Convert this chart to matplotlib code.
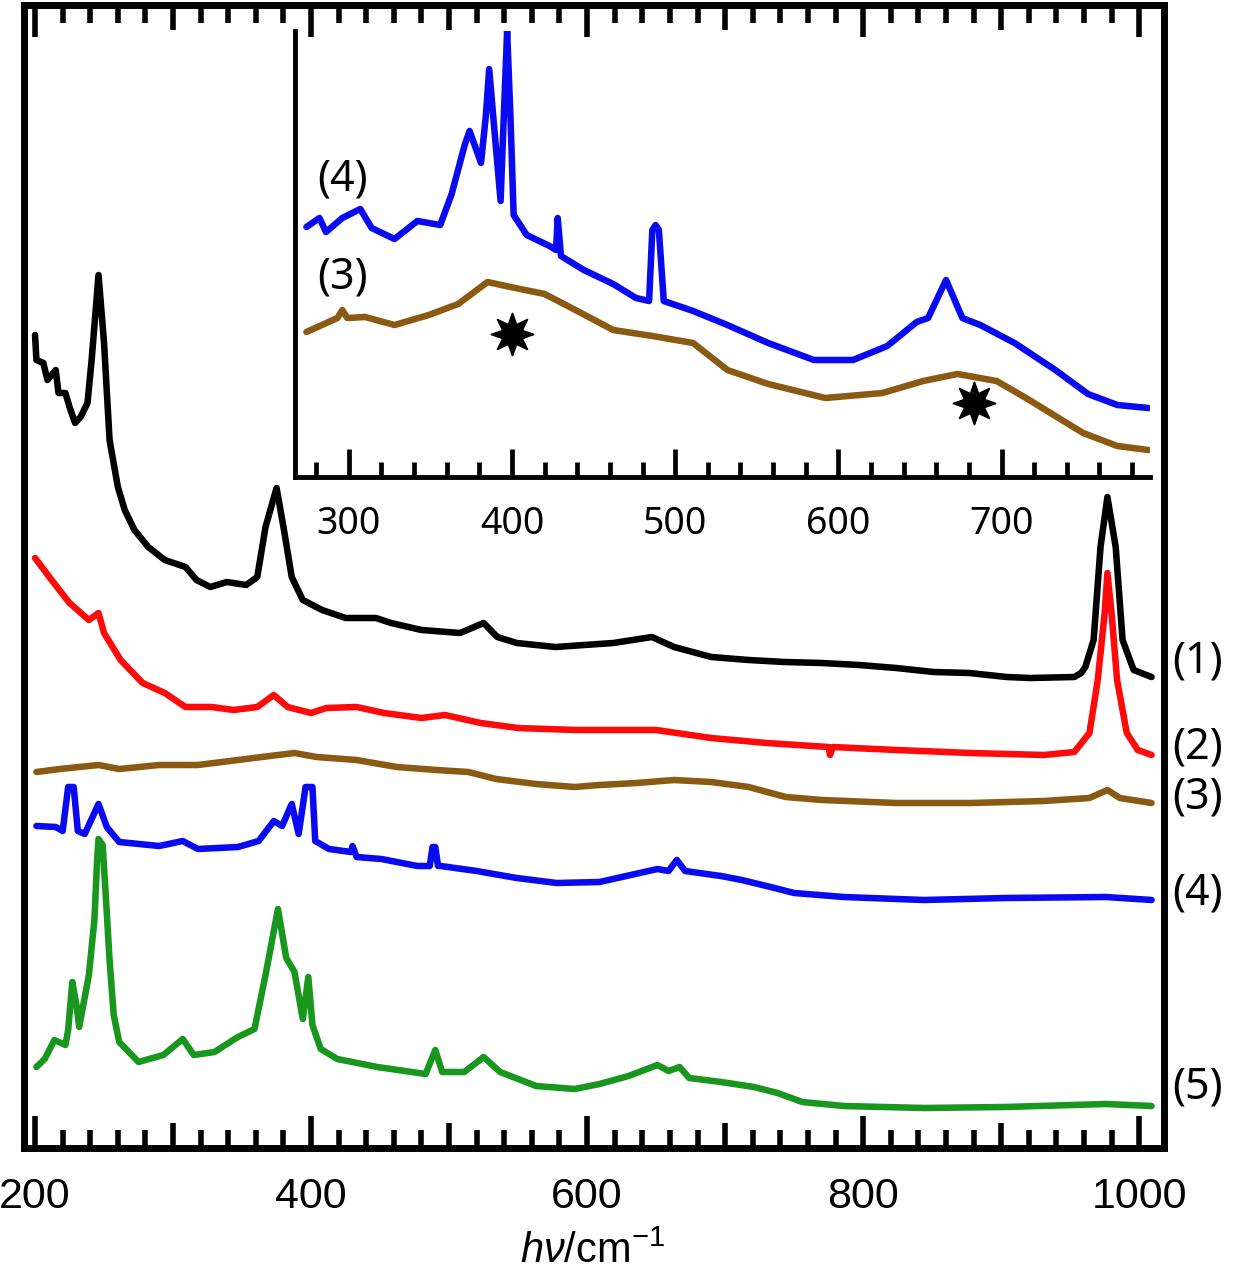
#%% Raman spectra (1)-(5) with inset of (3) and (4)
import numpy as np
import matplotlib
matplotlib.use("Agg")
import matplotlib.pyplot as plt
from matplotlib import font_manager
from matplotlib.ticker import MultipleLocator, FuncFormatter
from matplotlib.transforms import blended_transform_factory

# %% Data (wavenumber in cm-1, intensity in arbitrary units incl. offset)
wn_1 = [200, 201, 206, 209, 215, 217, 222, 225, 229, 233, 238, 241, 246, 250, 254, 260, 265, 272,
        282, 294, 309, 317, 327, 339, 353, 361, 367, 375, 380, 386, 394, 408, 425, 447, 458, 480,
        508, 525, 535, 549, 577, 619, 647, 663, 690, 717, 743, 770, 797, 824, 851, 877, 904, 921,
        953, 958, 961, 967, 972, 977, 983, 988, 996, 1009]
int_1 = [813, 788, 785, 768, 778, 755, 755, 741, 725, 731, 745, 788, 873, 805, 708, 661, 638, 618,
         601, 588, 581, 568, 561, 566, 563, 571, 621, 660, 621, 571, 548, 538, 530, 530, 525, 518,
         515, 525, 511, 505, 501, 505, 511, 501, 491, 488, 486, 485, 483, 480, 476, 475, 471, 470,
         471, 475, 481, 508, 601, 651, 601, 508, 478, 471]

wn_2 = [200, 212, 225, 239, 246, 250, 262, 278, 294, 309, 328, 344, 361, 373, 383, 400, 411, 433,
        453, 480, 497, 523, 550, 592, 620, 650, 690, 730, 775, 776, 778, 824, 878, 931, 953, 964,
        970, 975, 977, 980, 984, 991, 999, 1009]
int_2 = [590, 568, 545, 528, 535, 515, 488, 465, 455, 441, 441, 438, 441, 453, 441, 435, 440, 441,
         435, 430, 433, 425, 420, 418, 418, 418, 410, 405, 401, 393, 401, 398, 395, 393, 396, 415,
         468, 535, 575, 535, 468, 415, 398, 393]

wn_3 = [201, 218, 246, 261, 290, 318, 347, 376, 388, 404, 433, 462, 491, 514, 534, 563, 591, 609,
        636, 663, 690, 717, 744, 770, 824, 878, 931, 964, 977, 986, 1009]
int_3 = [376, 379, 383, 379, 383, 383, 388, 393, 395, 391, 388, 381, 378, 376, 369, 364, 361, 363,
         365, 368, 366, 361, 351, 348, 345, 345, 347, 350, 358, 350, 345]

wn_4 = [201, 215, 220, 224, 228, 231, 236, 246, 252, 261, 290, 307, 318, 347, 362, 373, 379, 386,
        391, 396, 401, 403, 413, 429, 430, 433, 451, 477, 486, 488, 490, 492, 494, 520, 549, 578,
        609, 638, 651, 659, 665, 671, 697, 712, 733, 750, 786, 844, 903, 976, 1009]
int_4 = [322, 321, 317, 361, 361, 317, 314, 344, 321, 306, 302, 307, 299, 301, 307, 327, 322, 344,
         314, 361, 361, 307, 299, 296, 302, 291, 289, 282, 282, 301, 301, 282, 282, 277, 270, 265,
         266, 275, 279, 277, 288, 277, 272, 268, 261, 255, 251, 248, 250, 251, 248]

wn_5 = [201, 207, 214, 222, 224, 227, 230, 232, 239, 243, 245, 246, 249, 251, 254, 257, 261, 275,
        293, 307, 315, 330, 347, 359, 367, 376, 382, 388, 394, 398, 401, 407, 419, 448, 483, 490,
        495, 511, 525, 537, 563, 591, 609, 630, 651, 659, 667, 674, 697, 721, 738, 756, 786, 844,
        903, 976, 1009]
int_5 = [81, 89, 108, 103, 118, 166, 143, 121, 173, 228, 288, 309, 303, 258, 188, 133, 106, 86,
         93, 109, 93, 96, 111, 119, 173, 239, 190, 176, 129, 171, 123, 99, 89, 81, 74, 98,
         76, 76, 91, 76, 62, 59, 64, 72, 83, 77, 81, 70, 66, 61, 55, 46, 42, 40,
         41, 44, 42]

# inset (zoom of spectra 3 and 4)
wn_in_4 = [274, 282, 286, 296, 307, 314, 328, 342, 356, 363, 371, 374, 381, 384, 386, 390, 393,
           395, 397, 399, 401, 409, 423, 427, 428, 430, 444, 462, 476, 484, 486, 488, 490, 493,
           511, 532, 557, 585, 609, 630, 648, 655, 666, 676, 687, 708, 733, 753, 771, 790]
int_in_4 = [248, 257, 243, 257, 266, 247, 236, 254, 250, 281, 330, 344, 312, 360, 406, 330, 274,
            360, 444, 360, 260, 240, 229, 225, 257, 219, 205, 191, 177, 174, 245, 250, 245, 174,
            164, 150, 132, 115, 115, 129, 153, 157, 195, 157, 150, 132, 105, 81, 70, 67]

wn_in_3 = [274, 293, 296, 299, 310, 328, 349, 367, 385, 399, 420, 440, 462, 486, 511, 532, 557,
           592, 627, 652, 673, 697, 715, 750, 771, 790]
int_in_3 = [143, 157, 165, 157, 158, 150, 160, 171, 193, 188, 181, 164, 145, 139, 132, 105, 91,
            77, 82, 94, 101, 94, 77, 42, 29, 25]

star_wn = [400, 683]
star_int = [141, 72]

curve_labels = ["(1)", "(2)", "(3)", "(4)", "(5)"]
label_int = [486, 401, 351, 255, 60]

colors = ["#000000", "#ff0a0a", "#8b5a12", "#0a0af0", "#18961e"]

#%% Style
fig_w, fig_h, dpi = 12.34, 12.80, 100
names = {f.name for f in font_manager.fontManager.ttflist}
tick_font = "Liberation Sans Narrow" if "Liberation Sans Narrow" in names else "Liberation Sans"
label_font = "Noto Sans" if "Noto Sans" in names else "DejaVu Sans"
plt.rcParams["mathtext.fontset"] = "custom"
plt.rcParams["mathtext.it"] = tick_font + ":italic"
plt.rcParams["mathtext.rm"] = tick_font

line_cfg = {"linewidth": 4.7, "solid_joinstyle": "round", "solid_capstyle": "round"}

fig = plt.figure(figsize=(fig_w, fig_h), dpi=dpi)
ax = fig.add_axes([24 / 1234, 1 - 1148 / 1280, 1140 / 1234, 1143 / 1280])

spectra = [(wn_1, int_1), (wn_2, int_2), (wn_3, int_3), (wn_4, int_4), (wn_5, int_5)]
for (wn, inten), c in zip(spectra, colors):
    ax.plot(wn, inten, color=c, **line_cfg)

ax.set_xlim(192, 1018)
ax.set_ylim(0, 1143)
ax.set_yticks([])
for s in ax.spines.values():
    s.set_linewidth(5)
ax.xaxis.set_major_locator(MultipleLocator(100))
ax.xaxis.set_minor_locator(MultipleLocator(20))
ax.xaxis.set_major_formatter(FuncFormatter(lambda v, p: f"{v:.0f}" if round(v) % 200 == 0 else ""))
ax.tick_params(axis="x", which="major", direction="in", top=True, bottom=True,
               length=23, width=4, pad=21, labelsize=31)
ax.tick_params(axis="x", which="minor", direction="in", top=True, bottom=True,
               length=13, width=4)
for lab in ax.get_xticklabels():
    lab.set_fontfamily(tick_font)
# medium ticks at the odd hundreds
for t, loc in zip(ax.xaxis.get_major_ticks(), ax.xaxis.get_majorticklocs()):
    if round(loc) % 200:
        t.tick1line.set_markersize(18)
        t.tick2line.set_markersize(18)

trans = blended_transform_factory(ax.transAxes, ax.transData)
for lab, y in zip(curve_labels, label_int):
    ax.text(1.007, y, lab, transform=trans, ha="left", va="center",
            fontsize=31, family=label_font, clip_on=False)

fig.text(593 / 1234, 1 - 1252 / 1280, r"$h\nu$/cm$^{\mathregular{-1}}$", ha="center", va="center",
         fontsize=30, family=tick_font)

#%% Inset
axin = fig.add_axes([295 / 1234, 1 - 477 / 1280, 855 / 1234, 446 / 1280])
axin.plot(wn_in_4, int_in_4, color=colors[3], **line_cfg)
axin.plot(wn_in_3, int_in_3, color=colors[2], **line_cfg)
axin.plot(star_wn, star_int, linestyle="none", marker=(8, 1, 0), markersize=31, color="black")
axin.set_xlim(267, 791)
axin.set_ylim(-2, 444)
axin.set_yticks([])
axin.patch.set_alpha(0)
axin.spines["top"].set_visible(False)
axin.spines["right"].set_visible(False)
axin.spines["left"].set_linewidth(3.5)
axin.spines["bottom"].set_linewidth(3.5)
axin.xaxis.set_major_locator(MultipleLocator(100))
axin.xaxis.set_minor_locator(MultipleLocator(20))
axin.tick_params(axis="x", which="major", direction="in", length=20, width=3.4, pad=20,
                 labelsize=27)
axin.tick_params(axis="x", which="minor", direction="in", length=11, width=3.4)
for lab in axin.get_xticklabels():
    lab.set_fontfamily(label_font)
axin.text(296, 295, "(4)", ha="center", va="center", fontsize=31, family=label_font)
axin.text(296, 197, "(3)", ha="center", va="center", fontsize=31, family=label_font)

fig.savefig("out.png", dpi=dpi)
